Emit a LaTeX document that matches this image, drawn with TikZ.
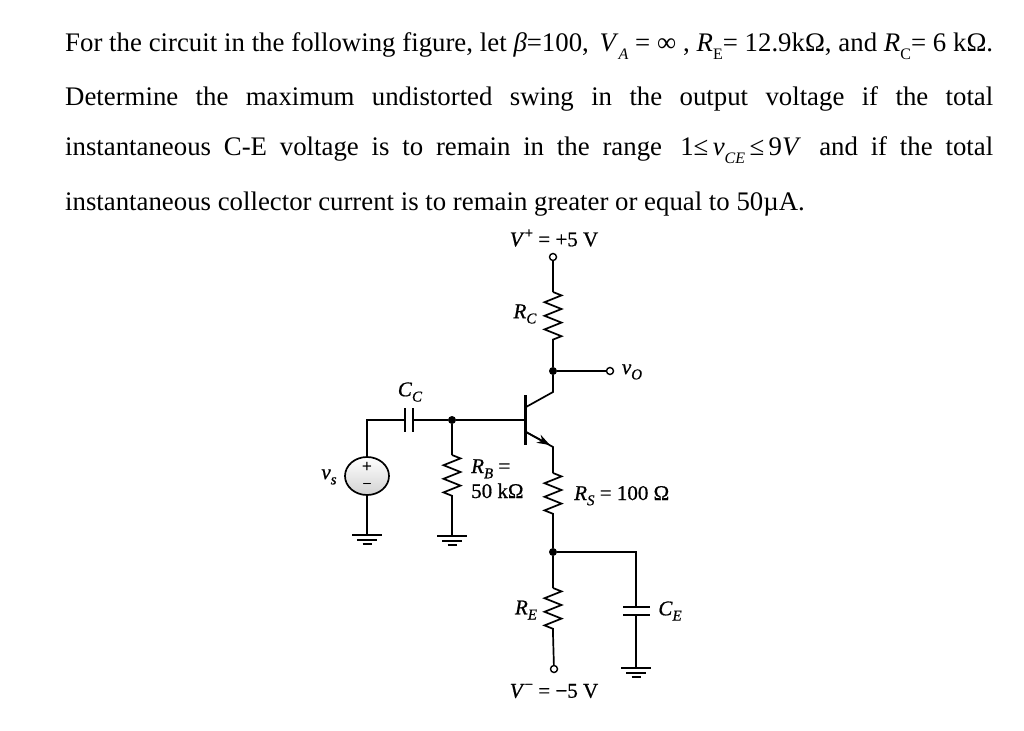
\documentclass[tikz,border=0pt]{standalone}
\usepackage{fontspec}
\setmainfont{Liberation Serif}
\newfontfamily\labf[FakeBold=0.7,ItalicFeatures={FakeBold=0.7}]{Liberation Serif}
\usetikzlibrary{shapes.geometric,decorations.pathmorphing,arrows.meta}
\newcommand{\lsub}[1]{\raisebox{-0.28em}{\fontsize{16}{16}\selectfont #1}}
\newcommand{\csub}[1]{\raisebox{-0.25em}{\fontsize{15}{15}\selectfont\textit{#1}}}
\tikzset{
  x=1pt,y=-1pt,
  wire/.style={line width=1.7pt,line join=miter},
  res/.style={wire,decorate,decoration={zigzag,amplitude=8.5pt,segment length=13.6pt}},
  plate/.style={line width=2.4pt},
  junction/.style={circle,fill=black,inner sep=0pt,minimum size=8pt},
  terminal/.style={circle,draw,line width=1.4pt,fill=white,inner sep=0pt,minimum size=7pt},
  textline/.style={anchor=base west,inner sep=0pt,font=\fontsize{26.8}{26.8}\selectfont},
  lab/.style={inner sep=0pt,font=\labf\fontsize{21}{22}\selectfont},
  pics/gnd/.style={code={
    \draw[line width=1.8pt] (-15,0) -- (15,0);
    \draw[line width=1.8pt] (-10,4.6) -- (10,4.6);
    \draw[line width=1.8pt] (-4.5,9) -- (4.5,9);
  }}
}
\begin{document}
\begin{tikzpicture}
\useasboundingbox (0,0) rectangle (1024,730);
\fill[white] (0,0) rectangle (1024,730);
% problem text
\node[textline] (t1) at (65,52) {\hbox to 928pt{For the circuit in the following figure, let \textit{β}=100,\hspace{0.4em}\textit{V}\lsub{\textit{A}} = ∞ , \textit{R}\lsub{E}= 12.9kΩ, and \textit{R}\lsub{C}= 6 kΩ.}};
\node[textline] (t2) at (65,106) {\hbox to 928pt{Determine the maximum undistorted swing in the output voltage if the total}};
\node[textline] (t3) at (65,156) {\hbox to 928pt{instantaneous C-E voltage is to remain in the range \hspace{0.2em}1≤\,\textit{v}\lsub{\textit{CE}}\,≤\,9\textit{V}\hspace{0.2em} and if the total}};
\node[textline] (t4) at (65,210) {instantaneous collector current is to remain greater or equal to 50µA.};
% coordinates
\coordinate (rct) at (553,292);
\coordinate (rcb) at (553,340);
\coordinate (cend) at (553,392);
\coordinate (cbar) at (526,407);
\coordinate (ebar) at (526,432);
\coordinate (etip) at (550,445);
\coordinate (eend) at (553,447);
\coordinate (rst) at (553,473);
\coordinate (rsb) at (553,520);
\coordinate (ret) at (553,588);
\coordinate (reb) at (553,634);
\coordinate (bt) at (525,395);
\coordinate (bb) at (525,445);
\coordinate (base) at (525,420);
\coordinate (srct) at (367,420);
\coordinate (ccl) at (405,420);
\coordinate (ccr) at (413,420);
\coordinate (rbt) at (452,455);
\coordinate (rbb) at (452,502);
\coordinate (cet) at (636,552);
\coordinate (cep1) at (636,607);
\coordinate (cep2) at (636,615);
\coordinate (g1) at (367,535);
\coordinate (g2) at (452,536);
\coordinate (g3) at (636,668);
% nodes
\node[terminal] (vp) at (553,257) {};
\node[junction] (jc) at (553,371) {};
\node[terminal] (vo) at (610,371) {};
\node[junction] (jb) at (452,420) {};
\node[junction] (je) at (553,552) {};
\node[terminal] (vm) at (554,669) {};
\node[ellipse,draw,line width=1.7pt,minimum width=44pt,minimum height=38pt,inner sep=0pt,
  left color=white,middle color=white,right color=gray!35,shading angle=0] (vs) at (367,476) {};
% wires
\draw[wire] (vp) -- (rct);
\draw[res] (rct) -- (rcb);
\draw[wire] (rcb) -- (jc) -- (cend) -- (cbar);
\draw[wire] (jc) -- (vo);
\draw[wire] (vs) -- (srct) -- (ccl);
\draw[wire] (ccr) -- (jb) -- (base);
\draw[wire] (jb) -- (rbt);
\draw[res] (rbt) -- (rbb);
\draw[wire] (rbb) -- (g2);
\draw[wire] (vs) -- (g1);
\draw[wire] (ebar) -- (eend) -- (rst);
\draw[wire,-{Stealth[length=13pt,width=9pt]}] (ebar) -- (etip);
\draw[res] (rst) -- (rsb);
\draw[wire] (rsb) -- (je) -- (ret);
\draw[res] (ret) -- (reb);
\draw[wire] (reb) -- (vm);
\draw[wire] (je) -- (cet) -- (cep1);
\draw[wire] (cep2) -- (g3);
\draw[line width=3pt] (bt) -- (bb);
\draw[plate] (405,408) -- (405,432);
\draw[plate] (413,408) -- (413,432);
\draw[plate] (623,607) -- (650,607);
\draw[plate] (623,615) -- (650,615);
\pic at (g1) {gnd};
\pic at (g2) {gnd};
\pic at (g3) {gnd};
% source polarity
\node[inner sep=0pt,font=\fontsize{18}{18}\selectfont\bfseries] (plus) at (367,467) {+};
\node[inner sep=0pt,font=\fontsize{15}{15}\selectfont\bfseries] (minus) at (367,485) {–};
% labels
\node[lab] (lvp) at (554,238) {\textit{V}\raisebox{0.4em}{\fontsize{15}{15}\selectfont +} = +5 V};
\node[lab] (lvm) at (554,691) {\textit{V}\raisebox{0.4em}{\fontsize{15}{15}\selectfont −} = −5 V};
\node[lab] (lrc) at (525,314) {\textit{R}\csub{C}};
\node[lab] (lvo) at (632,372) {\textit{v}\csub{O}};
\node[lab] (lcc) at (410,392) {\textit{C}\csub{C}};
\node[lab] (lvs) at (329,477) {\textit{v}\csub{s}};
\node[lab,anchor=base west] (lrb) at (471,473) {\textit{R}\csub{B} =};
\node[lab,anchor=base west] (lrb2) at (471,498) {50 kΩ};
\node[lab,anchor=base west] (lrs) at (574,500) {\textit{R}\csub{S} = 100 Ω};
\node[lab] (lre) at (526,610) {\textit{R}\csub{E}};
\node[lab] (lce) at (670,611) {\textit{C}\csub{E}};
\end{tikzpicture}
\end{document}
